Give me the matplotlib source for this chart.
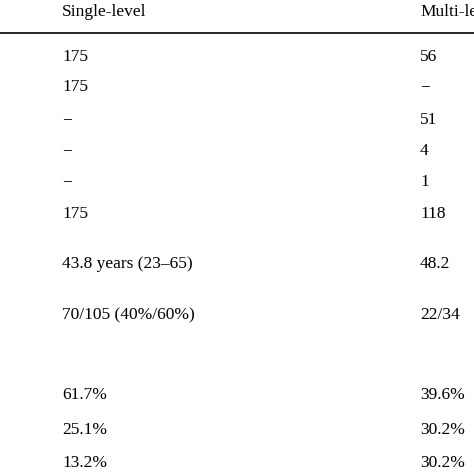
import matplotlib
matplotlib.use("Agg")
import matplotlib.pyplot as plt

header = ["Single-level", "Multi-level"]
col1 = ["175", "175", "\u2212", "\u2212", "\u2212", "175", "43.8 years (23\u201365)", "70/105 (40%/60%)", "61.7%", "25.1%", "13.2%"]
col2 = ["56", "\u2212", "51", "4", "1", "118", "48.2", "22/34", "39.6%", "30.2%", "30.2%"]
row_y = [57, 87, 120, 151, 182, 214, 264, 315, 395, 430, 463]

fig = plt.figure(figsize=(4.74, 4.74), dpi=100)
ax = fig.add_axes([0, 0, 1, 1])
ax.set_xlim(0, 474)
ax.set_ylim(474, 0)
ax.axis("off")
fs = 12.5
fam = "Liberation Serif"
ax.text(62, 12, header[0], fontsize=fs, family=fam, va="center")
ax.text(420, 12, header[1], fontsize=fs, family=fam, va="center")
ax.plot([0, 474], [33, 33], color="black", lw=1.2)
for y, a, b in zip(row_y, col1, col2):
    ax.text(62, y, a, fontsize=fs, family=fam, va="center")
    ax.text(420, y, b, fontsize=fs, family=fam, va="center")
fig.savefig("out.png", dpi=100)
